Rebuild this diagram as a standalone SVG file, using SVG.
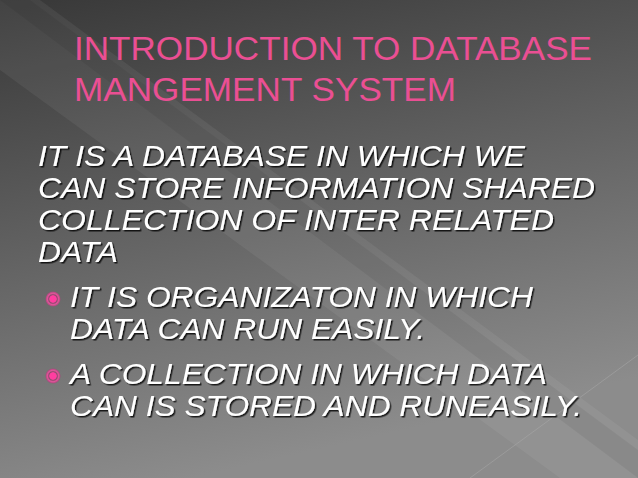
<svg xmlns="http://www.w3.org/2000/svg" width="638" height="478" viewBox="0 0 638 478">
<defs>
<linearGradient id="bg" x1="0" y1="0" x2="0.3" y2="1">
<stop offset="0" stop-color="#383838"/><stop offset="1" stop-color="#8c8c8c"/>
</linearGradient>
<filter id="sh" x="-5%" y="-20%" width="110%" height="140%"><feDropShadow dx="1.5" dy="1.5" stdDeviation="0.6" flood-color="#000" flood-opacity="0.8"/></filter>
<radialGradient id="bul"><stop offset="0.45" stop-color="#ff3ea0"/><stop offset="0.55" stop-color="#8a4a6a"/><stop offset="0.75" stop-color="#e0559a"/><stop offset="1" stop-color="#a04a78"/></radialGradient>
</defs>
<style>
.t{font-family:"Liberation Sans Narrow","Liberation Sans",Arial,sans-serif;font-size:33px;fill:#ea4f93}
.b{font-family:"Liberation Sans Narrow","Liberation Sans",Arial,sans-serif;font-size:29px;font-style:italic;fill:#fff;filter:url(#sh)}
</style>
<rect width="638" height="478" fill="url(#bg)"/>
<polygon points="0,0 40,0 638,440 638,478 560,478 0,70" fill="#fff" opacity="0.06"/>
<polygon points="0,0 30,0 638,450 638,478" fill="#000" opacity="0.06"/>
<line x1="638" y1="355" x2="470" y2="478" stroke="#aaa" stroke-width="1" opacity="0.5"/>
<g id="title">
<text class="t" x="74" y="60" textLength="518" lengthAdjust="spacingAndGlyphs">INTRODUCTION TO DATABASE</text>
<text class="t" x="74" y="101" textLength="382" lengthAdjust="spacingAndGlyphs">MANGEMENT SYSTEM</text>
</g>
<g id="body">
<text class="b" x="38" y="166" textLength="487" lengthAdjust="spacingAndGlyphs">IT IS A DATABASE IN WHICH WE</text>
<text class="b" x="38" y="198" textLength="557" lengthAdjust="spacingAndGlyphs">CAN STORE INFORMATION SHARED</text>
<text class="b" x="38" y="230" textLength="516" lengthAdjust="spacingAndGlyphs">COLLECTION OF INTER RELATED</text>
<text class="b" x="38" y="262" textLength="80" lengthAdjust="spacingAndGlyphs">DATA</text>
</g>
<g id="bullet1">
<circle cx="53" cy="299" r="7.5" fill="url(#bul)"/>
<text class="b" x="70" y="307" textLength="463" lengthAdjust="spacingAndGlyphs">IT IS ORGANIZATON IN WHICH</text>
<text class="b" x="70" y="339" textLength="355" lengthAdjust="spacingAndGlyphs">DATA CAN RUN EASILY.</text>
</g>
<g id="bullet2">
<circle cx="53" cy="376" r="7.5" fill="url(#bul)"/>
<text class="b" x="70" y="384" textLength="477" lengthAdjust="spacingAndGlyphs">A COLLECTION IN WHICH DATA</text>
<text class="b" x="70" y="416" textLength="512" lengthAdjust="spacingAndGlyphs">CAN IS STORED AND RUNEASILY.</text>
</g>
</svg>
